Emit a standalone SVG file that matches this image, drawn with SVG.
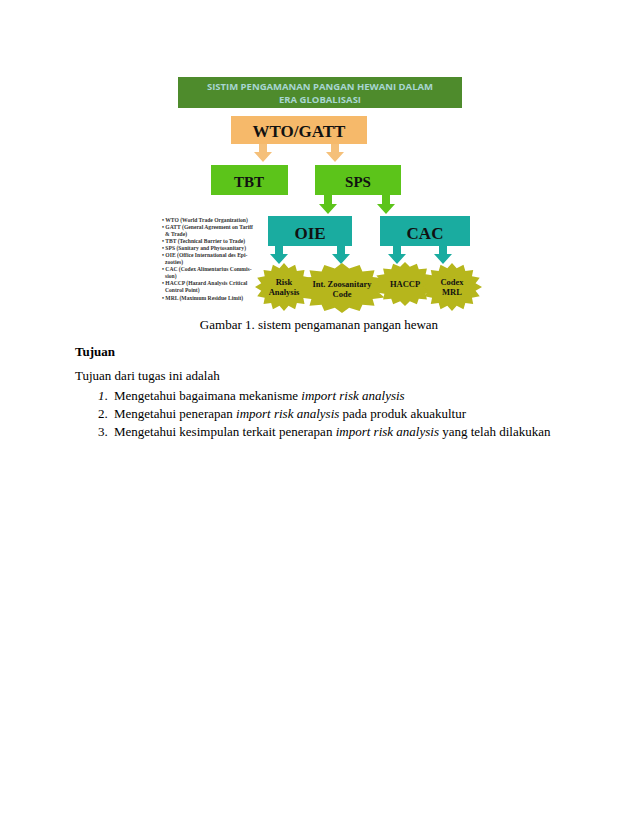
<svg xmlns="http://www.w3.org/2000/svg" width="638" height="826" viewBox="0 0 638 826">
<style>
.t{font-family:"Liberation Serif",serif;font-size:13px;fill:#000}
.b{font-family:"Liberation Serif",serif;font-weight:bold;fill:#111;text-anchor:middle}
.lg{font-family:"Liberation Serif",serif;font-weight:bold;font-size:5.6px;fill:#333}
.star{fill:#b6b61c}
</style>
<defs>
<polygon id="star" points="1,0 0.785,0.156 0.924,0.383 0.665,0.444 0.707,0.707 0.444,0.665 0.383,0.924 0.156,0.785 0,1 -0.156,0.785 -0.383,0.924 -0.444,0.665 -0.707,0.707 -0.665,0.444 -0.924,0.383 -0.785,0.156 -1,0 -0.785,-0.156 -0.924,-0.383 -0.665,-0.444 -0.707,-0.707 -0.444,-0.665 -0.383,-0.924 -0.156,-0.785 0,-1 0.156,-0.785 0.383,-0.924 0.444,-0.665 0.707,-0.707 0.665,-0.444 0.924,-0.383 0.785,-0.156"/>
<polygon id="arr" points="-4,0 4,0 4,9 9,9 0,19 -9,9 -4,9"/>
</defs>
<rect width="638" height="826" fill="#fff"/>
<g id="title">
<rect x="178" y="77" width="284" height="31" fill="#4e8b2c"/>
<text x="320" y="90" text-anchor="middle" font-family="'Open Sans','Liberation Sans',sans-serif" font-weight="bold" font-size="9.5" fill="#a8d6d2">SISTIM PENGAMANAN PANGAN HEWANI DALAM</text>
<text x="320" y="103" text-anchor="middle" font-family="'Open Sans','Liberation Sans',sans-serif" font-weight="bold" font-size="9.5" fill="#a8d6d2">ERA GLOBALISASI</text>
</g>
<g id="connectors">
<use href="#arr" transform="translate(263,143)" fill="#f5c07a"/>
<use href="#arr" transform="translate(335,143)" fill="#f5c07a"/>
<use href="#arr" transform="translate(328,195)" fill="#5cc41a" />
<use href="#arr" transform="translate(386,195)" fill="#5cc41a"/>
<use href="#arr" transform="translate(279,245)" fill="#1aaca0"/>
<use href="#arr" transform="translate(341,245)" fill="#1aaca0"/>
<use href="#arr" transform="translate(397,245)" fill="#1aaca0"/>
<use href="#arr" transform="translate(443,245)" fill="#1aaca0"/>
</g>
<g id="wto"><rect x="231" y="116" width="136" height="28" fill="#f6b96a"/><text class="b" x="299" y="137" font-size="17">WTO/GATT</text></g>
<g id="tbt"><rect x="211" y="165" width="77" height="30" fill="#5cc41a"/><text class="b" x="249" y="187" font-size="15">TBT</text></g>
<g id="sps"><rect x="315" y="165" width="86" height="30" fill="#5cc41a"/><text class="b" x="358" y="187" font-size="15">SPS</text></g>
<g id="oie"><rect x="268" y="216" width="84" height="30" fill="#1aaca0"/><text class="b" x="310" y="239" font-size="17">OIE</text></g>
<g id="cac"><rect x="380" y="216" width="90" height="30" fill="#1aaca0"/><text class="b" x="425" y="239" font-size="17">CAC</text></g>
<g id="risk"><use href="#star" class="star" transform="translate(284,287) scale(29,24)"/><text class="b" x="284" y="285" font-size="8.5">Risk</text><text class="b" x="284" y="295" font-size="8.5">Analysis</text></g>
<g id="zoo"><use href="#star" class="star" transform="translate(342,288) scale(46,25)"/><text class="b" x="342" y="287" font-size="8.5">Int. Zoosanitary</text><text class="b" x="342" y="297" font-size="8.5">Code</text></g>
<g id="haccp"><use href="#star" class="star" transform="translate(405,284) scale(31,22)"/><text class="b" x="405" y="287" font-size="8.5">HACCP</text></g>
<g id="codex"><use href="#star" class="star" transform="translate(452,287) scale(30,24)"/><text class="b" x="452" y="285" font-size="8.5">Codex</text><text class="b" x="452" y="295" font-size="8.5">MRL</text></g>
<g id="legend">
<text class="lg" x="162" y="222">• WTO (World Trade Organization)</text>
<text class="lg" x="162" y="229">• GATT (General Agreement on Tariff</text>
<text class="lg" x="165" y="236">&amp; Trade)</text>
<text class="lg" x="162" y="243">• TBT (Technical Barrier to Trade)</text>
<text class="lg" x="162" y="250">• SPS (Sanitary and Phytosanitary)</text>
<text class="lg" x="162" y="257">• OIE (Office International des Epi-</text>
<text class="lg" x="165" y="264">zooties)</text>
<text class="lg" x="162" y="271">• CAC (Codex Alimentarius Commis-</text>
<text class="lg" x="165" y="278">sion)</text>
<text class="lg" x="162" y="285">• HACCP (Hazard Analysis Critical</text>
<text class="lg" x="165" y="292">Control Point)</text>
<text class="lg" x="162" y="300">• MRL (Maximum Residue Limit)</text>
</g>
<g id="body">
<text class="t" x="319" y="329" text-anchor="middle">Gambar 1. sistem pengamanan pangan hewan</text>
<text class="t" x="75" y="356" font-weight="bold">Tujuan</text>
<text class="t" x="75" y="380">Tujuan dari tugas ini adalah</text>
<text class="t" x="98" y="400"><tspan font-style="italic">1</tspan>.</text>
<text class="t" x="114" y="400">Mengetahui bagaimana mekanisme <tspan font-style="italic">import risk analysis</tspan></text>
<text class="t" x="98" y="418">2.</text>
<text class="t" x="114" y="418">Mengetahui penerapan <tspan font-style="italic">import risk analysis</tspan> pada produk akuakultur</text>
<text class="t" x="98" y="436">3.</text>
<text class="t" x="114" y="436">Mengetahui kesimpulan terkait penerapan <tspan font-style="italic">import risk analysis</tspan> yang telah dilakukan</text>
</g>
</svg>
